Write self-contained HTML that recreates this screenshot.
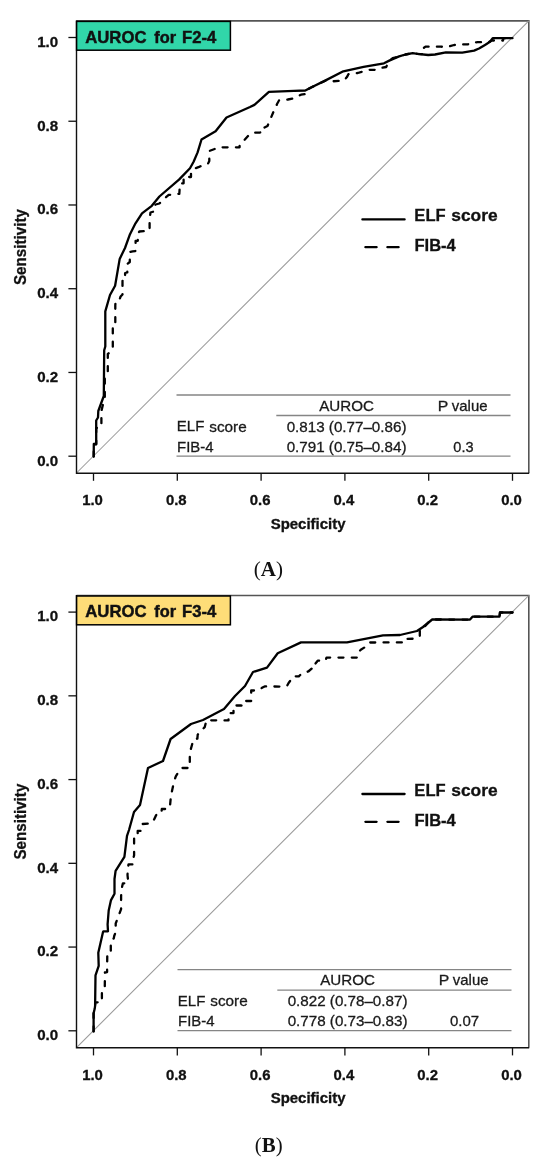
<!DOCTYPE html>
<html><head><meta charset="utf-8"><style>
html,body{margin:0;padding:0;background:#fff;}
svg{display:block;}
.tk,.lg,.tt{font-family:"Liberation Sans",Arial,sans-serif;font-weight:bold;fill:#111;stroke:#111;stroke-width:0.3;}
.tt{stroke-width:0.45;}
.tb{font-family:"Liberation Sans",Arial,sans-serif;fill:#1a1a1a;stroke:#1a1a1a;stroke-width:0.3;}
.pl{font-family:"Liberation Serif","Times New Roman",serif;fill:#111;}
.tl{stroke:#858585;stroke-width:1.3;}
.cv{fill:none;stroke:#000;stroke-width:2.3;stroke-linecap:round;stroke-linejoin:round;}
</style></head><body>
<svg width="550" height="1164" viewBox="0 0 550 1164">
<g transform="translate(0,0)">
<path d="M76.5,20.9 H528.8 V473" fill="none" stroke="#555" stroke-width="1.6"/>
<line x1="76.5" y1="473" x2="528.8" y2="20.9" stroke="#999" stroke-width="1.05"/>
<path d="M76.5,20.5 V473.2 H529.2" fill="none" stroke="#111" stroke-width="1.4"/>
<line x1="68.4" y1="456.20" x2="76.5" y2="456.20" stroke="#111" stroke-width="1.3"/>
<text x="58.13" y="465.50" class="tk" font-size="14.80" text-anchor="end" textLength="20.95" lengthAdjust="spacingAndGlyphs">0.0</text>
<line x1="68.4" y1="372.46" x2="76.5" y2="372.46" stroke="#111" stroke-width="1.3"/>
<text x="58.13" y="381.76" class="tk" font-size="14.80" text-anchor="end" textLength="20.95" lengthAdjust="spacingAndGlyphs">0.2</text>
<line x1="68.4" y1="288.72" x2="76.5" y2="288.72" stroke="#111" stroke-width="1.3"/>
<text x="58.13" y="298.02" class="tk" font-size="14.80" text-anchor="end" textLength="20.95" lengthAdjust="spacingAndGlyphs">0.4</text>
<line x1="68.4" y1="204.98" x2="76.5" y2="204.98" stroke="#111" stroke-width="1.3"/>
<text x="58.13" y="214.28" class="tk" font-size="14.80" text-anchor="end" textLength="20.95" lengthAdjust="spacingAndGlyphs">0.6</text>
<line x1="68.4" y1="121.24" x2="76.5" y2="121.24" stroke="#111" stroke-width="1.3"/>
<text x="58.13" y="130.54" class="tk" font-size="14.80" text-anchor="end" textLength="20.95" lengthAdjust="spacingAndGlyphs">0.8</text>
<line x1="68.4" y1="37.50" x2="76.5" y2="37.50" stroke="#111" stroke-width="1.3"/>
<text x="58.13" y="46.80" class="tk" font-size="14.80" text-anchor="end" textLength="20.95" lengthAdjust="spacingAndGlyphs">1.0</text>
<line x1="512.50" y1="473.2" x2="512.50" y2="480.8" stroke="#111" stroke-width="1.3"/>
<text x="511.48" y="505.30" class="tk" font-size="14.80" text-anchor="middle" textLength="20.71" lengthAdjust="spacingAndGlyphs">0.0</text>
<line x1="428.70" y1="473.2" x2="428.70" y2="480.8" stroke="#111" stroke-width="1.3"/>
<text x="427.68" y="505.30" class="tk" font-size="14.80" text-anchor="middle" textLength="20.71" lengthAdjust="spacingAndGlyphs">0.2</text>
<line x1="344.90" y1="473.2" x2="344.90" y2="480.8" stroke="#111" stroke-width="1.3"/>
<text x="343.88" y="505.30" class="tk" font-size="14.80" text-anchor="middle" textLength="20.71" lengthAdjust="spacingAndGlyphs">0.4</text>
<line x1="261.10" y1="473.2" x2="261.10" y2="480.8" stroke="#111" stroke-width="1.3"/>
<text x="260.08" y="505.30" class="tk" font-size="14.80" text-anchor="middle" textLength="20.71" lengthAdjust="spacingAndGlyphs">0.6</text>
<line x1="177.30" y1="473.2" x2="177.30" y2="480.8" stroke="#111" stroke-width="1.3"/>
<text x="176.28" y="505.30" class="tk" font-size="14.80" text-anchor="middle" textLength="20.71" lengthAdjust="spacingAndGlyphs">0.8</text>
<line x1="93.50" y1="473.2" x2="93.50" y2="480.8" stroke="#111" stroke-width="1.3"/>
<text x="92.48" y="505.30" class="tk" font-size="14.80" text-anchor="middle" textLength="20.71" lengthAdjust="spacingAndGlyphs">1.0</text>
<text x="270.66" y="528.60" class="tk" font-size="13.80" textLength="74.85" lengthAdjust="spacingAndGlyphs">Specificity</text>
<g transform="translate(25.80,285.01) rotate(-90)"><text x="0" y="0" class="tk" font-size="15.80" textLength="75.95" lengthAdjust="spacingAndGlyphs">Sensitivity</text></g>
<g transform="translate(0.0,0)">
<line x1="176.5" y1="395.0" x2="510.5" y2="395.0" class="tl"/>
<line x1="276.3" y1="415.5" x2="510.5" y2="415.5" class="tl"/>
<line x1="176.5" y1="456.1" x2="510.5" y2="456.1" class="tl"/>
<text x="319.16" y="410.79" class="tb" font-size="15.00" textLength="54.75" lengthAdjust="spacingAndGlyphs">AUROC</text>
<text x="437.76" y="410.89" class="tb" font-size="15.00" textLength="10.53" lengthAdjust="spacingAndGlyphs">P</text>
<text x="451.85" y="410.90" class="tb" font-size="15.00" textLength="35.69" lengthAdjust="spacingAndGlyphs">value</text>
<text x="176.77" y="431.19" class="tb" font-size="15.00" textLength="27.57" lengthAdjust="spacingAndGlyphs">ELF</text>
<text x="209.23" y="431.60" class="tb" font-size="15.00" textLength="37.48" lengthAdjust="spacingAndGlyphs">score</text>
<text x="177.06" y="451.79" class="tb" font-size="15.00" textLength="36.44" lengthAdjust="spacingAndGlyphs">FIB-4</text>
<text x="286.65" y="431.60" class="tb" font-size="15.00" textLength="119.81" lengthAdjust="spacingAndGlyphs">0.813 (0.77–0.86)</text>
<text x="286.65" y="451.80" class="tb" font-size="15.00" textLength="119.81" lengthAdjust="spacingAndGlyphs">0.791 (0.75–0.84)</text>
<text x="453.35" y="451.63" class="tb" font-size="15.00" textLength="20.20" lengthAdjust="spacingAndGlyphs">0.3</text>
</g>
<polyline points="93.7,456.5 93.8,444.0 96.2,444.0 96.2,428.0 98.3,428.0 101.4,426.7 101.4,411.0 104.8,397.0 104.8,377.0 107.8,372.0 107.8,354.0 109.8,352.3 112.8,349.0 112.8,327.0 115.3,326.5 115.3,305.3 115.6,301.0 119.5,299.5 120.6,296.5 122.5,294.5 122.5,281.0 125.1,280.8 125.1,273.0 127.3,272.5 127.3,264.0 129.8,262.0 129.8,252.0 132.7,251.3 135.6,251.0 135.6,241.0 137.8,240.8 137.8,234.0 139.3,231.5 146.4,231.0 149.6,230.5 149.6,219.0 150.5,212.5 153.8,211.5 154.0,206.0 155.6,204.5 159.4,203.5 164.9,198.2 168.7,194.9 175.3,194.4 179.3,193.8 179.6,189.4 180.2,183.4 183.6,183.3 183.6,177.0 191.0,177.0 191.0,172.0 193.3,169.1 199.1,166.9 204.5,164.5 208.0,163.7 209.3,161.0 209.3,151.0 213.3,149.5 219.3,147.3 239.6,147.3 239.6,145.0 242.5,142.2 248.4,135.6 252.7,132.7 260.0,132.5 264.0,132.0 264.5,127.5 267.5,126.0 273.3,112.2 275.5,109.3 276.9,104.2 279.0,100.5 287.8,99.5 293.6,98.4 301.0,94.7 305.3,94.0 305.3,90.6 311.1,87.5 325.6,80.6 330.2,81.5 344.0,80.5 346.9,77.1 348.4,74.2 352.0,73.5 357.8,73.0 363.6,71.3 369.5,69.8 376.7,69.8 381.0,68.0 386.2,67.0 387.6,64.0 389.0,61.0 392.7,58.2 399.1,56.4 405.5,54.5 412.7,53.2 417.3,53.8 423.6,54.2 423.6,48.0 425.5,46.6 441.0,46.7 446.8,47.0 454.1,45.0 459.5,44.4 467.7,44.4 471.0,42.6 477.7,42.2 489.0,42.0 492.0,40.5 503.0,40.5 503.5,38.2 512.5,38.2" class="cv" stroke-dasharray="5 8.3"/>
<polyline points="93.7,456.5 93.8,443.9 96.2,444.3 96.2,420.5 98.0,417.5 98.3,411.0 103.8,396.0 104.2,350.3 105.3,346.5 105.3,311.4 110.0,295.0 115.1,285.7 119.7,258.9 125.0,248.0 130.0,234.2 135.5,223.3 142.0,213.4 151.8,205.8 159.4,196.5 179.0,179.6 190.0,168.2 193.6,161.8 197.6,152.4 201.5,139.5 215.6,131.3 226.5,117.5 250.0,107.0 254.4,104.9 268.9,91.8 294.0,90.9 305.3,90.5 311.1,87.5 325.6,80.4 343.3,71.3 363.6,66.9 384.0,63.3 389.8,60.4 399.1,56.4 405.5,54.5 412.7,53.2 417.3,53.8 428.2,55.0 435.0,54.5 445.9,52.3 462.3,52.7 474.1,50.6 479.0,48.5 485.0,44.9 490.0,41.8 492.7,38.2 512.5,38.2" class="cv"/>
<line x1="362.4" y1="219.4" x2="404.6" y2="219.4" class="cv"/>
<line x1="365.4" y1="247.2" x2="404.6" y2="247.2" class="cv" stroke-dasharray="11.2 10.8"/>
<text x="414.36" y="221.00" class="lg" font-size="16.00" textLength="31.22" lengthAdjust="spacingAndGlyphs">ELF</text>
<text x="451.29" y="221.30" class="lg" font-size="16.00" textLength="46.28" lengthAdjust="spacingAndGlyphs">score</text>
<text x="414.45" y="251.30" class="lg" font-size="16.00" textLength="41.34" lengthAdjust="spacingAndGlyphs">FIB-4</text>
<rect x="76.6" y="21.4" width="153.8" height="28.8" fill="#31d6a9" stroke="#000" stroke-width="1.5"/>
<text x="85.26" y="42.50" class="tt" font-size="16.60" textLength="61.20" lengthAdjust="spacingAndGlyphs">AUROC</text>
<text x="154.23" y="42.50" class="tt" font-size="16.60" textLength="21.78" lengthAdjust="spacingAndGlyphs">for</text>
<text x="182.08" y="42.50" class="tt" font-size="16.60" textLength="34.21" lengthAdjust="spacingAndGlyphs">F2-4</text>
<text x="253.72" y="576.25" class="pl" font-size="21.20" textLength="29.25" lengthAdjust="spacingAndGlyphs">(<tspan font-weight="bold">A</tspan>)</text>
</g>
<g transform="translate(0,574.6)">
<path d="M76.5,20.9 H528.8 V473" fill="none" stroke="#555" stroke-width="1.6"/>
<line x1="76.5" y1="473" x2="528.8" y2="20.9" stroke="#999" stroke-width="1.05"/>
<path d="M76.5,20.5 V473.2 H529.2" fill="none" stroke="#111" stroke-width="1.4"/>
<line x1="68.4" y1="456.20" x2="76.5" y2="456.20" stroke="#111" stroke-width="1.3"/>
<text x="58.13" y="465.50" class="tk" font-size="14.80" text-anchor="end" textLength="20.95" lengthAdjust="spacingAndGlyphs">0.0</text>
<line x1="68.4" y1="372.46" x2="76.5" y2="372.46" stroke="#111" stroke-width="1.3"/>
<text x="58.13" y="381.76" class="tk" font-size="14.80" text-anchor="end" textLength="20.95" lengthAdjust="spacingAndGlyphs">0.2</text>
<line x1="68.4" y1="288.72" x2="76.5" y2="288.72" stroke="#111" stroke-width="1.3"/>
<text x="58.13" y="298.02" class="tk" font-size="14.80" text-anchor="end" textLength="20.95" lengthAdjust="spacingAndGlyphs">0.4</text>
<line x1="68.4" y1="204.98" x2="76.5" y2="204.98" stroke="#111" stroke-width="1.3"/>
<text x="58.13" y="214.28" class="tk" font-size="14.80" text-anchor="end" textLength="20.95" lengthAdjust="spacingAndGlyphs">0.6</text>
<line x1="68.4" y1="121.24" x2="76.5" y2="121.24" stroke="#111" stroke-width="1.3"/>
<text x="58.13" y="130.54" class="tk" font-size="14.80" text-anchor="end" textLength="20.95" lengthAdjust="spacingAndGlyphs">0.8</text>
<line x1="68.4" y1="37.50" x2="76.5" y2="37.50" stroke="#111" stroke-width="1.3"/>
<text x="58.13" y="46.80" class="tk" font-size="14.80" text-anchor="end" textLength="20.95" lengthAdjust="spacingAndGlyphs">1.0</text>
<line x1="512.50" y1="473.2" x2="512.50" y2="480.8" stroke="#111" stroke-width="1.3"/>
<text x="511.48" y="505.30" class="tk" font-size="14.80" text-anchor="middle" textLength="20.71" lengthAdjust="spacingAndGlyphs">0.0</text>
<line x1="428.70" y1="473.2" x2="428.70" y2="480.8" stroke="#111" stroke-width="1.3"/>
<text x="427.68" y="505.30" class="tk" font-size="14.80" text-anchor="middle" textLength="20.71" lengthAdjust="spacingAndGlyphs">0.2</text>
<line x1="344.90" y1="473.2" x2="344.90" y2="480.8" stroke="#111" stroke-width="1.3"/>
<text x="343.88" y="505.30" class="tk" font-size="14.80" text-anchor="middle" textLength="20.71" lengthAdjust="spacingAndGlyphs">0.4</text>
<line x1="261.10" y1="473.2" x2="261.10" y2="480.8" stroke="#111" stroke-width="1.3"/>
<text x="260.08" y="505.30" class="tk" font-size="14.80" text-anchor="middle" textLength="20.71" lengthAdjust="spacingAndGlyphs">0.6</text>
<line x1="177.30" y1="473.2" x2="177.30" y2="480.8" stroke="#111" stroke-width="1.3"/>
<text x="176.28" y="505.30" class="tk" font-size="14.80" text-anchor="middle" textLength="20.71" lengthAdjust="spacingAndGlyphs">0.8</text>
<line x1="93.50" y1="473.2" x2="93.50" y2="480.8" stroke="#111" stroke-width="1.3"/>
<text x="92.48" y="505.30" class="tk" font-size="14.80" text-anchor="middle" textLength="20.71" lengthAdjust="spacingAndGlyphs">1.0</text>
<text x="270.66" y="528.60" class="tk" font-size="13.80" textLength="74.85" lengthAdjust="spacingAndGlyphs">Specificity</text>
<g transform="translate(25.80,285.01) rotate(-90)"><text x="0" y="0" class="tk" font-size="15.80" textLength="75.95" lengthAdjust="spacingAndGlyphs">Sensitivity</text></g>
<g transform="translate(1.0,0)">
<line x1="176.5" y1="395.0" x2="510.5" y2="395.0" class="tl"/>
<line x1="276.3" y1="415.5" x2="510.5" y2="415.5" class="tl"/>
<line x1="176.5" y1="456.1" x2="510.5" y2="456.1" class="tl"/>
<text x="319.16" y="410.79" class="tb" font-size="15.00" textLength="54.75" lengthAdjust="spacingAndGlyphs">AUROC</text>
<text x="437.76" y="410.89" class="tb" font-size="15.00" textLength="10.53" lengthAdjust="spacingAndGlyphs">P</text>
<text x="451.85" y="410.90" class="tb" font-size="15.00" textLength="35.69" lengthAdjust="spacingAndGlyphs">value</text>
<text x="176.77" y="431.19" class="tb" font-size="15.00" textLength="27.57" lengthAdjust="spacingAndGlyphs">ELF</text>
<text x="209.23" y="431.60" class="tb" font-size="15.00" textLength="37.48" lengthAdjust="spacingAndGlyphs">score</text>
<text x="177.06" y="451.79" class="tb" font-size="15.00" textLength="36.44" lengthAdjust="spacingAndGlyphs">FIB-4</text>
<text x="286.65" y="431.60" class="tb" font-size="15.00" textLength="119.81" lengthAdjust="spacingAndGlyphs">0.822 (0.78–0.87)</text>
<text x="286.65" y="451.80" class="tb" font-size="15.00" textLength="119.81" lengthAdjust="spacingAndGlyphs">0.778 (0.73–0.83)</text>
<text x="448.93" y="451.39" class="tb" font-size="15.00" textLength="29.15" lengthAdjust="spacingAndGlyphs">0.07</text>
</g>
<polyline points="93.6,456.8 93.6,438.6 94.7,434.2 95.1,431.3 95.3,427.7 101.9,427.7 101.9,415.4 104.8,412.4 104.9,397.9 107.1,397.5 107.1,392.8 107.3,379.4 110.8,378.4 110.8,366.9 112.4,365.8 113.8,363.6 114.2,361.4 115.7,357.4 115.7,348.9 121.1,334.5 121.1,321.4 121.6,314.4 122.9,308.7 128.0,308.7 128.0,305.4 127.5,300.4 127.9,293.4 128.5,289.8 133.0,289.8 133.0,285.0 134.1,280.7 134.1,263.4 137.7,262.7 137.7,256.4 141.6,256.3 142.0,252.4 142.5,249.4 151.0,248.8 153.5,246.2 155.5,241.8 157.4,238.4 161.5,237.9 161.8,234.4 168.6,234.4 170.1,230.4 170.7,223.9 172.0,216.3 173.9,207.4 175.8,201.7 179.0,196.6 181.5,193.4 189.8,193.4 189.8,178.1 190.5,175.6 193.0,166.7 193.9,164.4 197.4,164.1 197.7,160.1 200.3,156.9 204.7,152.5 206.5,145.7 228.5,145.8 228.5,138.7 233.5,138.4 233.5,130.9 241.5,130.9 242.5,126.4 251.2,126.4 251.2,115.9 258.0,115.9 262.5,112.9 264.6,111.8 283.5,112.0 287.2,110.9 288.6,108.4 292.3,103.4 293.0,101.7 298.8,101.7 301.7,99.0 308.3,96.9 311.9,93.9 315.5,93.2 315.5,88.9 317.7,86.1 325.5,86.1 326.5,83.0 356.8,83.0 357.2,78.9 360.8,75.2 367.4,70.9 369.5,67.9 402.0,67.8 403.0,64.4 414.5,64.1 419.8,61.9 419.8,54.4 423.5,53.4 429.3,46.9 432.2,44.9 470.0,45.0 472.5,42.1 499.5,42.0 500.0,37.9 512.5,37.9" class="cv" stroke-dasharray="5 8.3"/>
<polyline points="93.6,456.8 93.6,438.6 94.7,434.2 95.1,431.3 95.5,400.8 98.7,391.3 98.3,378.1 102.9,357.8 103.3,356.7 108.0,356.7 107.6,349.8 108.7,335.9 110.9,325.8 114.5,319.2 114.5,304.4 115.6,296.2 124.4,282.3 127.0,261.2 129.0,255.4 134.0,237.4 140.0,230.4 148.0,193.4 163.0,186.4 170.6,164.4 191.0,149.4 203.0,145.4 224.0,134.4 235.0,121.4 245.0,111.4 253.0,97.4 267.0,93.0 277.7,78.7 301.0,67.8 347.0,67.8 383.0,60.8 400.0,60.4 417.0,56.4 423.0,52.4 432.2,44.9 470.0,45.0 472.5,42.1 499.5,42.0 500.0,37.9 512.5,37.9" class="cv"/>
<line x1="362.4" y1="219.4" x2="404.6" y2="219.4" class="cv"/>
<line x1="365.4" y1="247.2" x2="404.6" y2="247.2" class="cv" stroke-dasharray="11.2 10.8"/>
<text x="414.36" y="221.00" class="lg" font-size="16.00" textLength="31.22" lengthAdjust="spacingAndGlyphs">ELF</text>
<text x="451.29" y="221.30" class="lg" font-size="16.00" textLength="46.28" lengthAdjust="spacingAndGlyphs">score</text>
<text x="414.45" y="251.30" class="lg" font-size="16.00" textLength="41.34" lengthAdjust="spacingAndGlyphs">FIB-4</text>
<rect x="76.6" y="21.4" width="153.8" height="28.8" fill="#fedd78" stroke="#000" stroke-width="1.5"/>
<text x="85.26" y="42.50" class="tt" font-size="16.60" textLength="61.33" lengthAdjust="spacingAndGlyphs">AUROC</text>
<text x="154.23" y="42.50" class="tt" font-size="16.60" textLength="21.78" lengthAdjust="spacingAndGlyphs">for</text>
<text x="182.08" y="42.50" class="tt" font-size="16.60" textLength="34.21" lengthAdjust="spacingAndGlyphs">F3-4</text>
<text x="254.84" y="577.07" class="pl" font-size="21.20" textLength="27.79" lengthAdjust="spacingAndGlyphs">(<tspan font-weight="bold">B</tspan>)</text>
</g>
</svg>
</body></html>
